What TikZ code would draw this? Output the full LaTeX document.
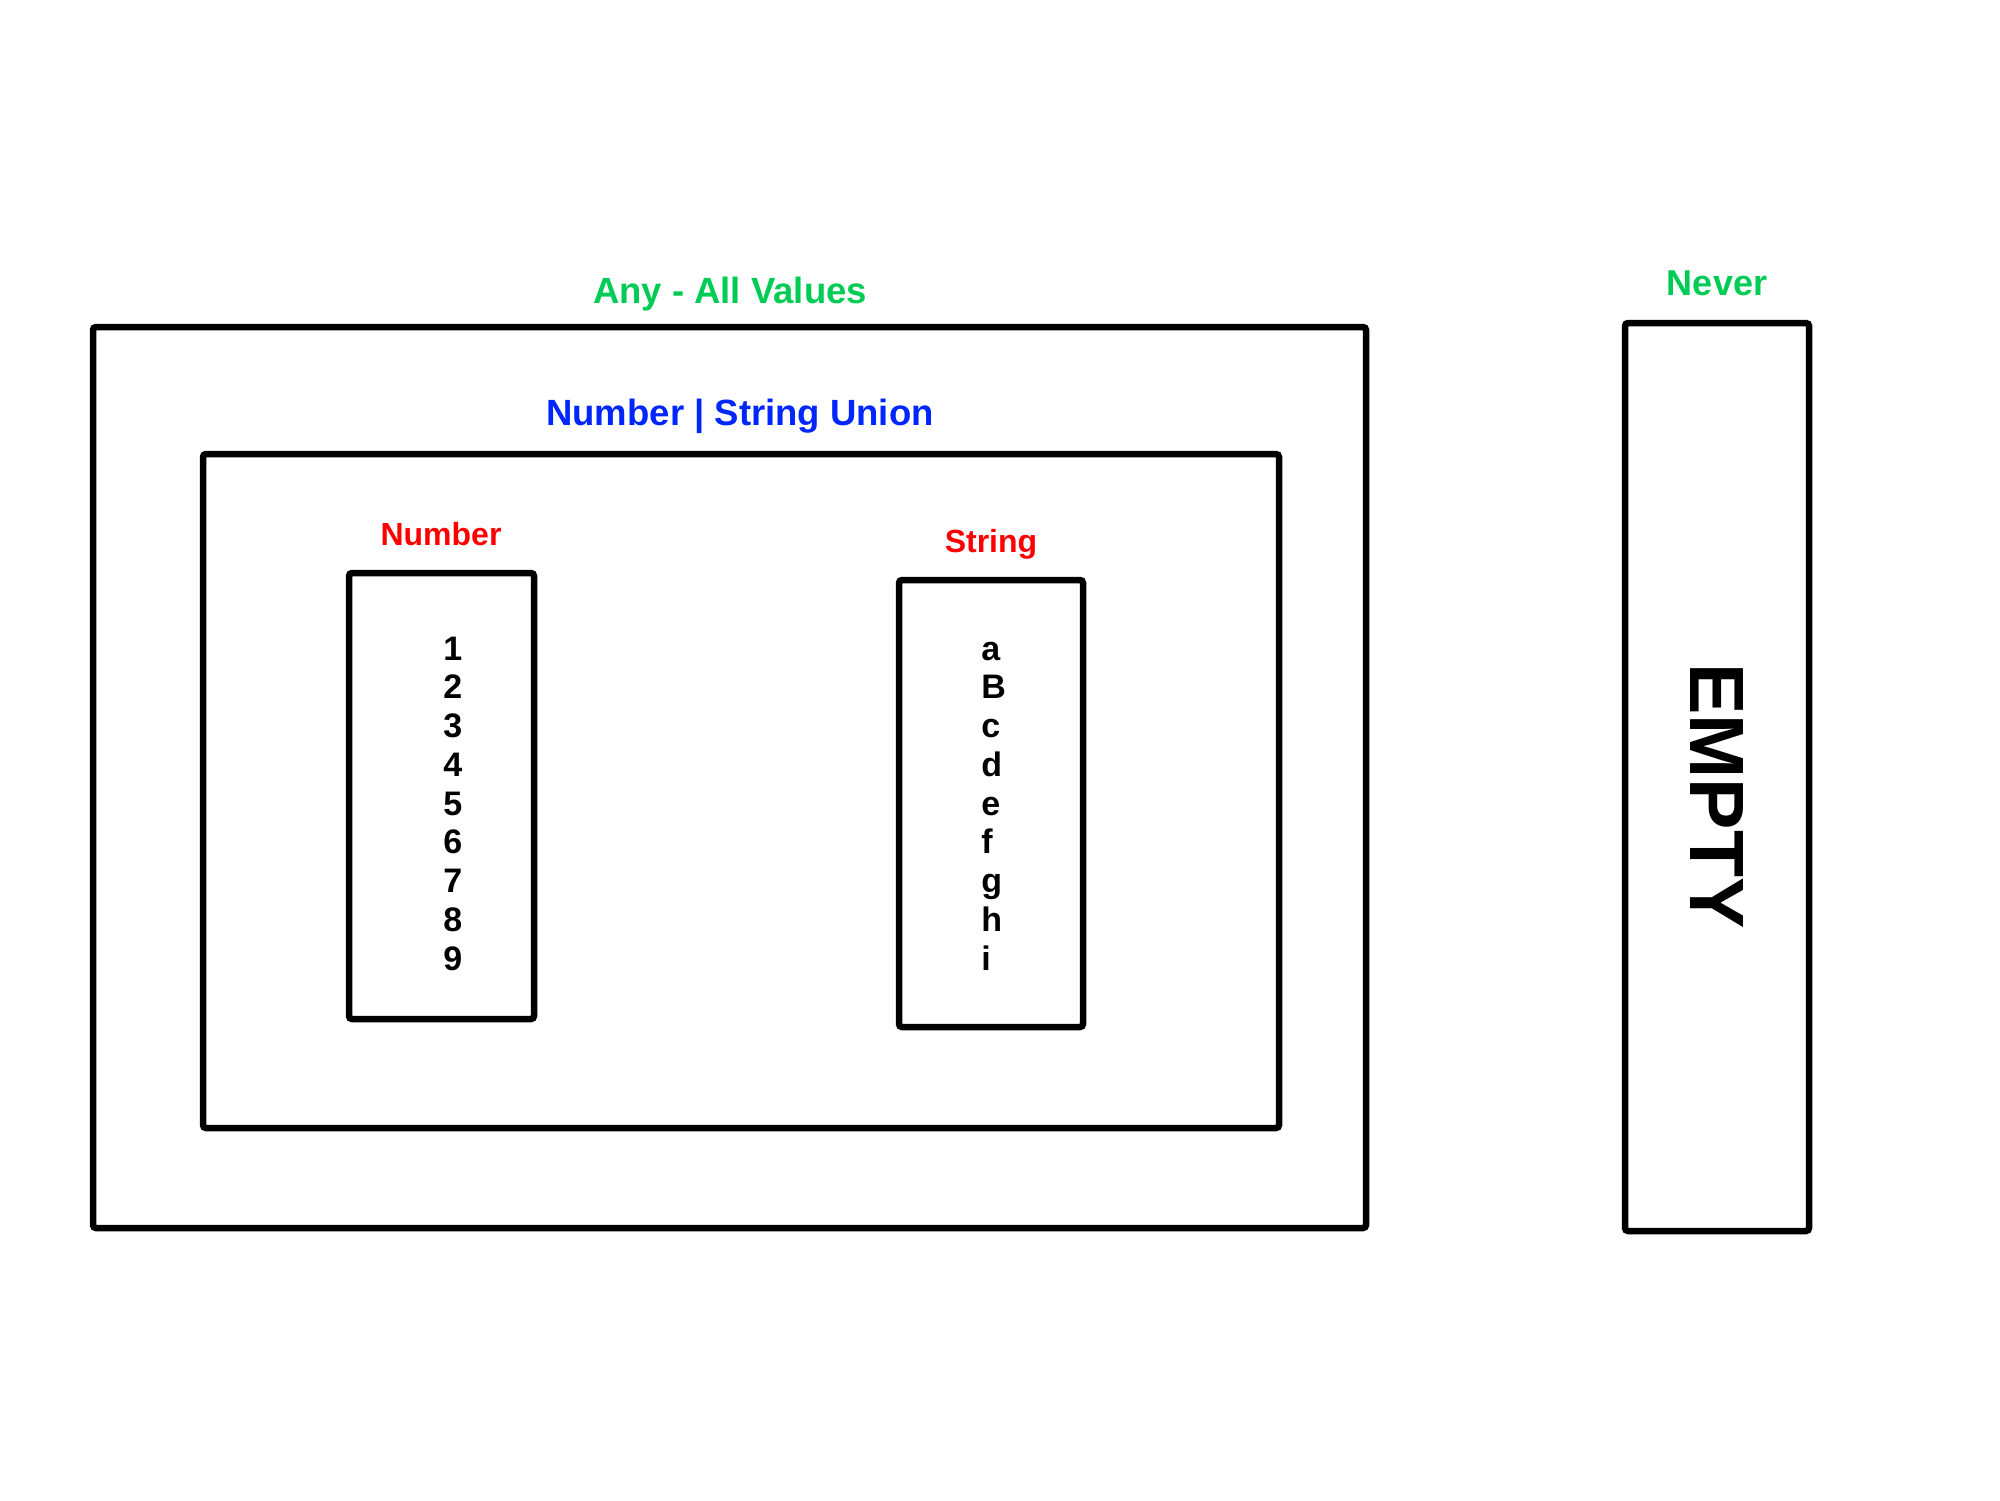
\documentclass[tikz,border=0pt]{standalone}
\usepackage{fontspec}
\setmainfont{Liberation Sans}
\definecolor{anygreen}{RGB}{0,204,85}
\definecolor{unionblue}{RGB}{0,38,255}
\definecolor{typered}{RGB}{255,0,0}
\begin{document}
\begin{tikzpicture}[x=0.5pt,y=-0.5pt,
  setbox/.style={draw=black,line width=3.25pt,rounded corners=1.5pt,inner sep=0pt},
  setlabel/.style={font=\bfseries\fontsize{18.25}{22}\selectfont,anchor=base,inner sep=0pt},
  typelabel/.style={font=\bfseries\fontsize{16}{19}\selectfont,anchor=base,inner sep=0pt,text=typered},
  member/.style={font=\bfseries\fontsize{17}{20}\selectfont,anchor=base west,inner sep=0pt}]
\useasboundingbox (0,0) rectangle (2000,1500);

% set boxes
\node[setbox,minimum width=636.5pt,minimum height=450.5pt] (any) at (729.5,777.5) {};
\node[setbox,minimum width=538pt,minimum height=337pt] (union) at (741,791) {};
\node[setbox,minimum width=92.5pt,minimum height=223pt] (number) at (441.5,796) {};
\node[setbox,minimum width=92pt,minimum height=223.5pt] (string) at (991,803.5) {};
\node[setbox,minimum width=92pt,minimum height=454pt] (never) at (1717,777) {};

% labels
\node[setlabel,text=anygreen] (anylbl) at (730,303) {Any - All Values};
\node[setlabel,text=unionblue] (unionlbl) at (740,425) {Number | String Union};
\node[typelabel] (numberlbl) at (441,545) {Number};
\node[typelabel] (stringlbl) at (991,552) {String};
\node[setlabel,font=\bfseries\fontsize{18}{22}\selectfont,text=anygreen] (neverlbl) at (1717,295) {Never};

% members
\foreach \d [count=\i] in {1,...,9}{ % numbers
  \node[member] (num\i) at (443,{660+(\i-1)*38.75}) {\d};
}
\foreach \c [count=\i] in {a,B,c,d,e,f,g,h,i}{ % strings
  \node[member] (str\i) at (981,{660+(\i-1)*38.75}) {\c};
}
\node[font=\bfseries\fontsize{38.5}{44}\selectfont,rotate=-90,inner sep=0pt] (empty) at (1717,796) {EMPTY};
\end{tikzpicture}
\end{document}
